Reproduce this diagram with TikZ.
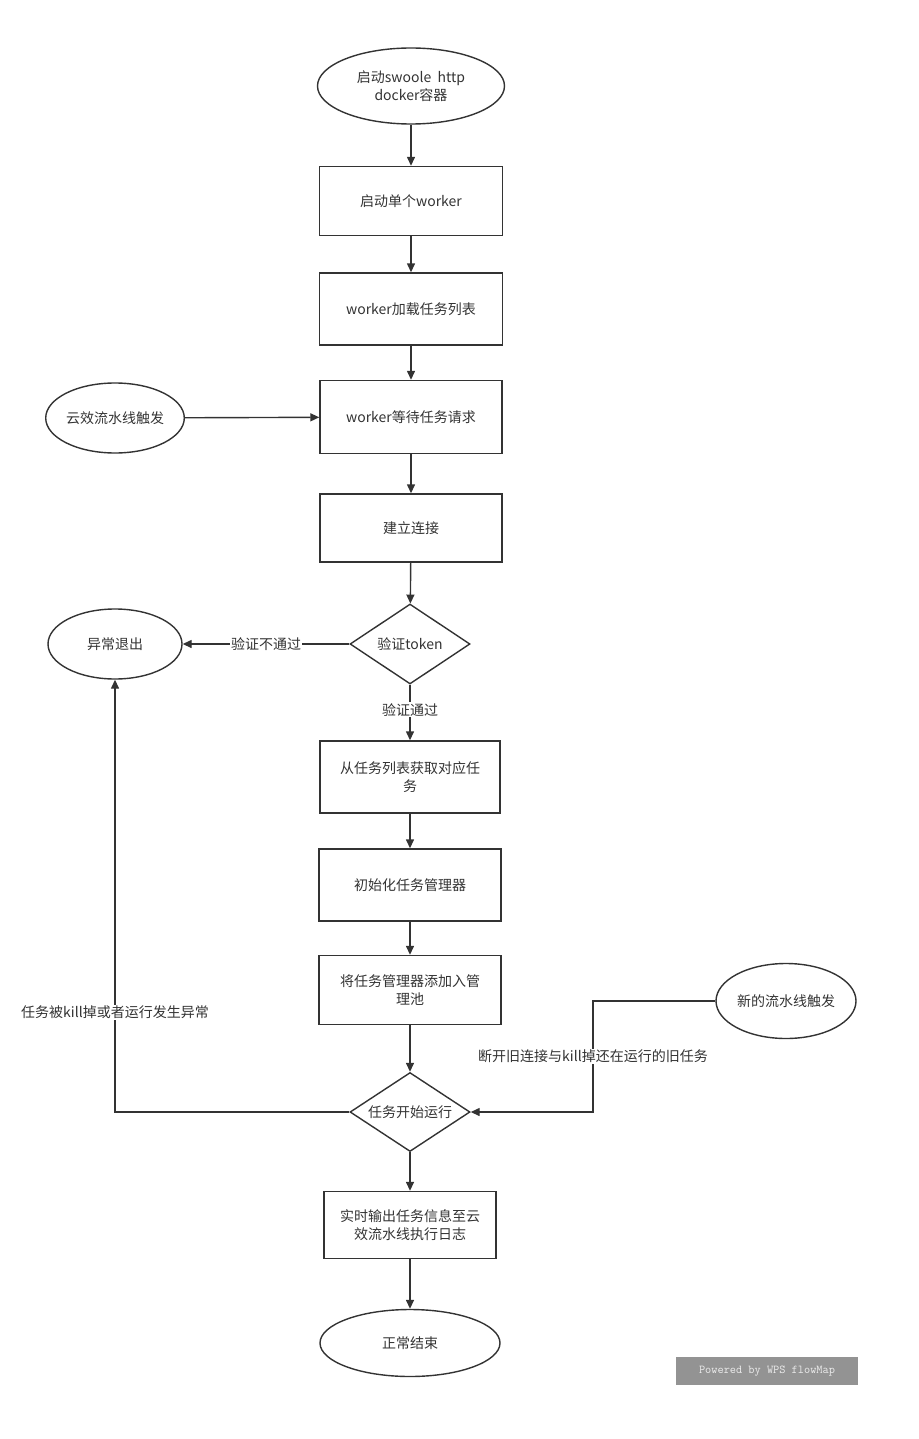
\documentclass[tikz,border=0pt]{standalone}
\usepackage{fontspec}
\setmainfont{Noto Sans CJK SC}
\usetikzlibrary{shapes.geometric,arrows.meta}
\definecolor{ln}{HTML}{333333}
\begin{document}
\begin{tikzpicture}[x=1pt,y=-1pt,
 every node/.style={font=\fontsize{14}{18}\selectfont,text=ln,align=center},
 box/.style={draw=ln,line width=1.4pt,rectangle,minimum width=#1},
 ell/.style={draw=ln,line width=1.4pt,ellipse,inner sep=0pt},
 dia/.style={draw=ln,line width=1.4pt,diamond,aspect=1.5,minimum width=120,minimum height=80,inner sep=0},
 arr/.style={draw=ln,line width=1.4pt,-{Triangle[length=9pt,width=8pt]}},
 lbl/.style={fill=white,inner sep=1pt}]
\useasboundingbox (0,0) rectangle (918,1439);
\node[ell,minimum width=187,minimum height=76] (s) at (411,86) {启动swoole\ \ http\\[0pt]docker容器};
\node[box,minimum width=183,minimum height=69] (b1) at (411,201) {启动单个worker};
\node[box,minimum width=183,minimum height=72] (b2) at (411,309) {worker加载任务列表};
\node[box,minimum width=182,minimum height=73] (b3) at (411,417) {worker等待任务请求};
\node[ell,minimum width=134,minimum height=70] (c) at (115,418) {云效流水线触发};
\node[box,minimum width=182,minimum height=68] (b4) at (411,528) {建立连接};
\node[dia] (t) at (410,644) {验证token};
\node[ell,minimum width=134,minimum height=70] (x) at (115,644) {异常退出};
\node[box,minimum width=180,minimum height=72] (b5) at (410,777) {从任务列表获取对应任\\[0pt]务};
\node[box,minimum width=182,minimum height=72] (b6) at (410,885) {初始化任务管理器};
\node[box,minimum width=182,minimum height=69] (b7) at (410,990) {将任务管理器添加入管\\[0pt]理池};
\node[dia,minimum height=79] (r) at (410,1112) {任务开始运行};
\node[ell,minimum width=140,minimum height=75] (n) at (786,1001) {新的流水线触发};
\node[box,minimum width=172,minimum height=67] (b8) at (410,1225) {实时输出任务信息至云\\[0pt]效流水线执行日志};
\node[ell,minimum width=180,minimum height=67] (e) at (410,1343) {正常结束};
\node[fill=gray!85,text=white!85!gray,minimum width=182,minimum height=28,font=\ttfamily\fontsize{12}{14}\selectfont] (w) at (767,1371) {Powered by WPS flowMap};
\draw[arr] (s) -- (b1);
\draw[arr] (b1) -- (b2);
\draw[arr] (b2) -- (b3);
\draw[arr] (c) -- (b3);
\draw[arr] (b3) -- (b4);
\draw[arr] (b4) -- (t);
\draw[arr] (t) -- node[lbl]{验证不通过} (x);
\draw[arr] (t) -- node[lbl,pos=0.45]{验证通过} (b5);
\draw[arr] (b5) -- (b6);
\draw[arr] (b6) -- (b7);
\draw[arr] (b7) -- (r);
\draw[arr] (r) -- (b8);
\draw[arr] (b8) -- (e);
\coordinate (k1) at (115,1112);
\draw[arr] (r.west) -- (k1) -- node[lbl,pos=0.23]{任务被kill掉或者运行发生异常} (x.south);
\coordinate (k2) at (593,1001);
\coordinate (k3) at (593,1112);
\draw[arr] (n.west) -- (k2) -- node[lbl]{断开旧连接与kill掉还在运行的旧任务} (k3) -- (r.east);
\end{tikzpicture}
\end{document}
